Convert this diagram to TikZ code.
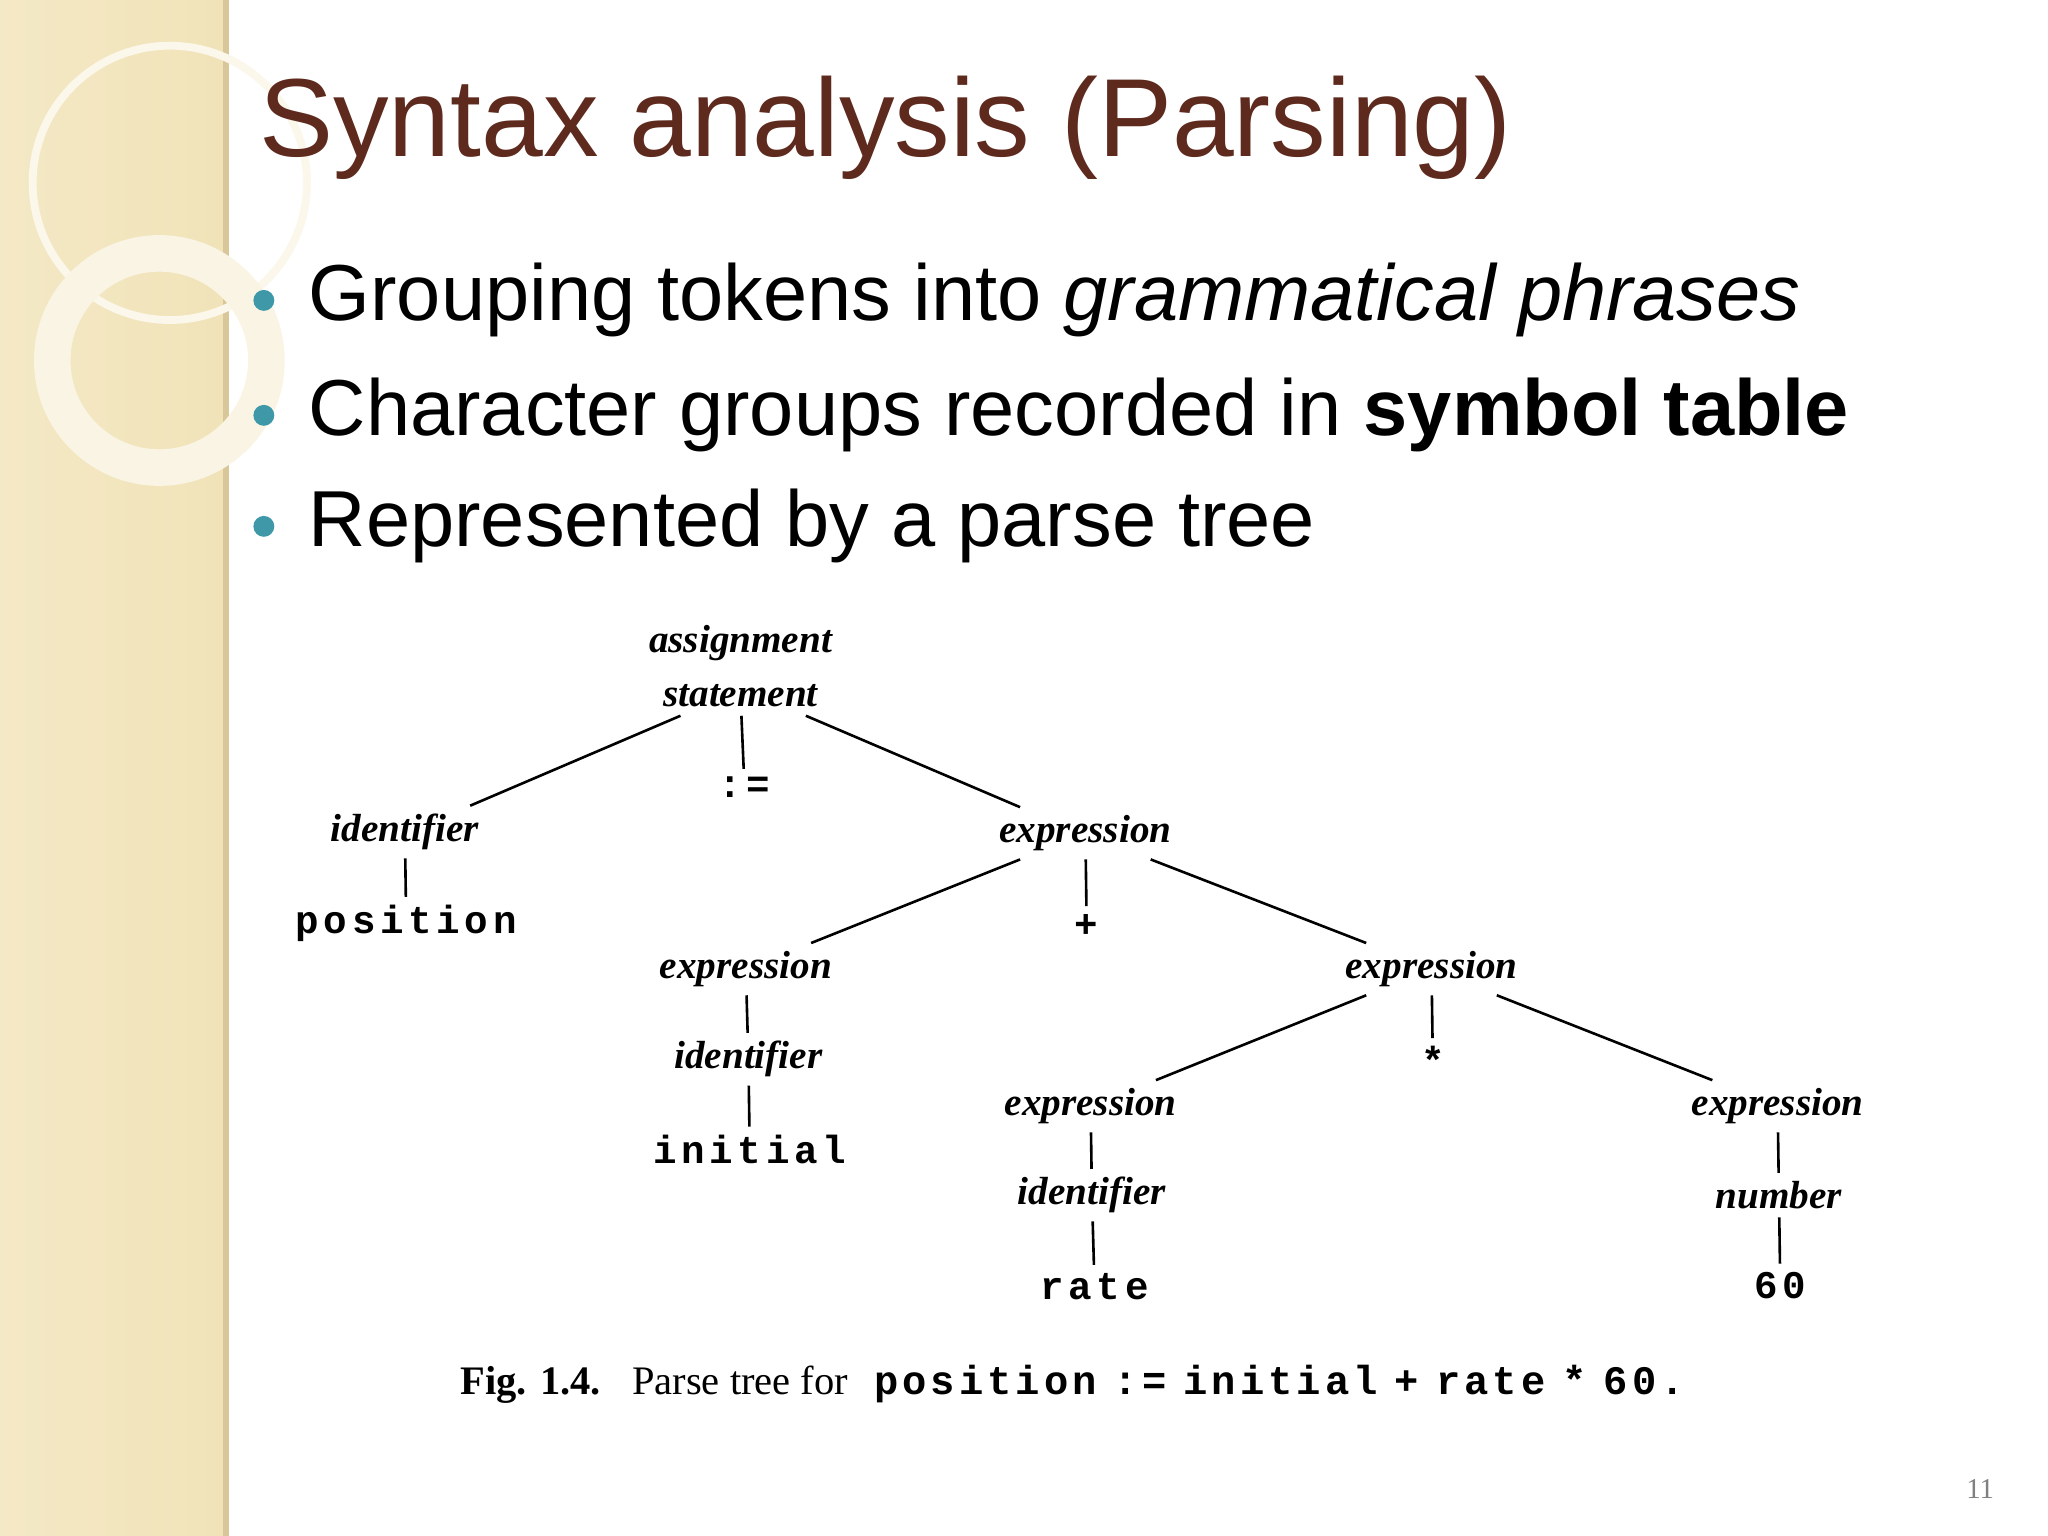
\documentclass[tikz,border=0pt]{standalone}
\usepackage{fontspec}
\setmainfont{Liberation Sans}
\newfontfamily\serifit{Liberation Serif}
\newfontfamily\monob[LetterSpace=12]{Liberation Mono}
\newfontfamily\monocap[LetterSpace=10,WordSpace=0.6]{Liberation Mono}
\definecolor{beige}{HTML}{F1E3B8}
\definecolor{beigeline}{HTML}{D9C79A}
\definecolor{titlebrown}{HTML}{5E2A1E}
\definecolor{teal}{HTML}{3E98A8}
\begin{document}
\begin{tikzpicture}[x=0.5pt,y=-0.5pt,
  nt/.style={font=\serifit\itshape\bfseries\fontsize{15}{15}\selectfont,inner sep=3pt},
  tk/.style={font=\monob\bfseries\fontsize{15}{15}\selectfont,inner sep=3pt},
  br/.style={line width=1pt}]
\useasboundingbox (0,0) rectangle (1568,1176);
\fill[white] (0,0) rectangle (1568,1176);
\shade[left color=beige!80!white,right color=beige] (0,0) rectangle (173,1176);
\draw[beigeline,line width=2pt] (173,0) -- (173,1176);
\begin{scope}
\clip (0,0) rectangle (260,420);
\draw[white!70!beige,line width=3pt] (130,140) circle (105);
\draw[white!60!beige,line width=14pt] (122,276) circle (82);
\end{scope}
\node[anchor=base west,text=titlebrown,font=\fontsize{42.5}{43}\selectfont,inner sep=0] (title) at (198,120) {Syntax analysis (Parsing)};
\foreach \y/\t [count=\i] in {230/{Grouping tokens into \textit{grammatical phrases}},318/{Character groups recorded in \textbf{symbol table}},403/{Represented by a parse tree}}{
  \fill[teal] (202,\y) circle (8);
  \node[anchor=west,font=\fontsize{30.4}{31}\selectfont,inner sep=0] (b\i) at (236,\y) {\t};
}
\node[nt] (as) at (567,492) {assignment};
\node[nt] (st) at (567,533) {statement};
\node[tk] (ass) at (570,603) {:=};
\node[nt] (id1) at (310,637) {identifier};
\node[tk] (pos) at (311,707) {position};
\node[nt] (e1) at (831,638) {expression};
\node[tk] (plus) at (832,709) {+};
\node[nt] (e2) at (571,742) {expression};
\node[nt] (id2) at (573,811) {identifier};
\node[tk] (ini) at (574,880) {initial};
\node[nt] (e3) at (1096,742) {expression};
\node[tk] (star) at (1097,812) {*};
\node[nt] (e4) at (835,847) {expression};
\node[nt] (id3) at (836,915) {identifier};
\node[tk] (rate) at (838,985) {rate};
\node[nt] (e5) at (1361,847) {expression};
\node[nt] (num) at (1362,915) {number};
\node[tk] (sixty) at (1363,984) {60};
\draw[br] ([xshift=-23pt]st.south) -- ([xshift=25pt]id1.north);
\draw[br] ([xshift=25pt]st.south) -- ([xshift=-25pt]e1.north);
\draw[br] (st) -- (ass);
\draw[br] (id1) -- (pos);
\draw[br] ([xshift=-25pt]e1.south) -- ([xshift=25pt]e2.north);
\draw[br] (e1) -- (plus);
\draw[br] ([xshift=25pt]e1.south) -- ([xshift=-25pt]e3.north);
\draw[br] (e2) -- (id2);
\draw[br] (id2) -- (ini);
\draw[br] ([xshift=-25pt]e3.south) -- ([xshift=25pt]e4.north);
\draw[br] (e3) -- (star);
\draw[br] ([xshift=25pt]e3.south) -- ([xshift=-25pt]e5.north);
\draw[br] (e4) -- (id3);
\draw[br] (id3) -- (rate);
\draw[br] (e5) -- (num);
\draw[br] (num) -- (sixty);
\node[anchor=base west,inner sep=0,font=\serifit\fontsize{15.5}{15}\selectfont] (cap) at (352,1068)
 {\textbf{Fig. 1.4.}\hspace{12pt}Parse tree for\hspace{10pt}{\monocap\bfseries position := initial + rate * 60.}};
\node[text=gray,font=\serifit\fontsize{11}{11}\selectfont] (pg) at (1516,1140) {11};
\end{tikzpicture}
\end{document}
